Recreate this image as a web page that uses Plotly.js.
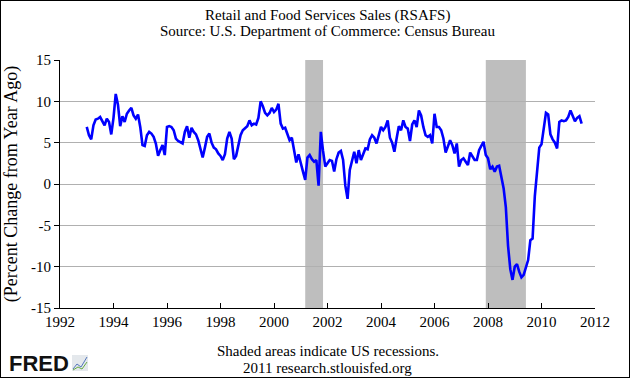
<!DOCTYPE html>
<html>
<head>
<meta charset="utf-8">
<script src="https://cdn.plot.ly/plotly-3.0.1.min.js"></script>
<style>
  html, body { margin: 0; padding: 0; background: #fff; }
  #chart { width: 628px; height: 376px; border: 1px solid #000; }
</style>
</head>
<body>
<div id="chart"></div>
<script>
// Monthly percent change from year ago, starting Jan 1993
const startYear = 1993;
const y1993 = [6.9, 5.9, 5.4, 7.1, 7.8, 7.9, 8.1, 7.5, 7.1, 7.9, 7.5, 6.0];
const y1994 = [8.0, 10.9, 9.6, 7.0, 8.2, 7.5, 8.5, 8.9, 9.2, 8.3, 7.9, 8.4];
const y1995 = [6.9, 4.7, 4.6, 5.9, 6.3, 6.1, 5.7, 4.9, 3.4, 4.1, 4.7, 3.5];
const y1996 = [6.9, 7.0, 6.9, 6.5, 5.5, 5.2, 5.0, 4.9, 6.3, 7.0, 5.6, 6.8];
const y1997 = [6.3, 6.0, 5.3, 4.1, 3.2, 4.4, 5.7, 6.1, 5.0, 4.4, 4.2, 3.7];
const y1998 = [3.4, 2.9, 3.6, 5.5, 6.3, 5.5, 3.0, 3.4, 4.9, 5.9, 6.5, 6.7];
const y1999 = [7.0, 7.7, 7.1, 7.3, 7.2, 8.0, 10.0, 9.4, 8.6, 8.3, 8.6, 9.2];
const y2000 = [8.7, 9.0, 9.7, 7.3, 6.7, 6.8, 6.0, 5.3, 5.6, 4.2, 2.6, 3.6];
const y2001 = [2.7, 1.5, 0.5, 3.2, 3.5, 3.0, 2.7, 2.9, -0.2, 6.3, 4.0, 2.1];
const y2002 = [2.5, 2.9, 2.8, 1.5, 3.0, 3.8, 4.0, 2.9, -0.2, -1.8, 1.7, 2.9];
const y2003 = [3.9, 2.5, 4.1, 2.9, 3.7, 4.3, 4.2, 5.4, 5.9, 5.6, 4.9, 5.8];
const y2004 = [6.9, 6.5, 6.9, 7.7, 5.6, 5.0, 3.9, 5.5, 7.0, 6.5, 7.7, 6.9];
const y2005 = [6.7, 5.2, 7.2, 7.7, 6.9, 8.9, 8.3, 6.9, 5.9, 5.7, 5.9, 4.9];
const y2006 = [8.5, 6.9, 6.9, 6.5, 5.5, 3.8, 4.5, 5.3, 4.7, 3.7, 4.9, 2.1];
const y2007 = [2.9, 3.1, 2.7, 2.3, 3.8, 3.3, 2.9, 2.9, 4.1, 4.6, 5.1, 3.5];
const y2008 = [3.1, 1.8, 2.1, 1.5, 2.1, 2.2, 1.0, -0.5, -2.8, -7.5, -10.3, -11.6];
const y2009 = [-10.0, -9.7, -10.6, -11.3, -11.0, -10.2, -9.2, -6.8, -6.6, -1.5, 1.8, 4.4];
const y2010 = [4.8, 6.9, 8.6, 8.4, 6.0, 5.4, 5.0, 4.3, 7.5, 7.7, 7.6, 7.7];
const y2011 = [8.1, 8.9, 8.2, 7.6, 8.0, 8.2, 7.3];

const recessionStart = [2001.167, 2007.917];
const recessionEnd = [2001.833, 2009.417];

const xTickVals = [1992, 1994, 1996, 1998, 2000, 2002, 2004, 2006, 2008, 2010, 2012];
const yTickVals = [-15, -10, -5, 0, 5, 10, 15];

const values = [].concat(y1993, y1994, y1995, y1996, y1997, y1998, y1999, y2000,
  y2001, y2002, y2003, y2004, y2005, y2006, y2007, y2008, y2009, y2010, y2011);
const xs = values.map((v, i) => startYear + i / 12);

const serif = 'Liberation Serif';

const shapes = recessionStart.map((s, i) => ({
  type: 'rect', xref: 'x', yref: 'paper', x0: s, x1: recessionEnd[i], y0: 0, y1: 1,
  fillcolor: '#BEBEBE', line: { width: 0 }, layer: 'below'
}));

const layout = {
  width: 628, height: 376,
  margin: { l: 59, r: 34, t: 59, b: 69 },
  paper_bgcolor: '#fff', plot_bgcolor: '#fff',
  showlegend: false,
  font: { family: serif, size: 15, color: '#000' },
  xaxis: {
    range: [1992, 2012], tickvals: xTickVals, ticktext: xTickVals.map(String),
    ticks: 'inside', ticklen: 5, tickcolor: '#000', tickwidth: 1,
    showline: true, linecolor: '#000', linewidth: 1, showgrid: false, zeroline: false
  },
  yaxis: {
    range: [-15, 15], tickvals: yTickVals, ticktext: yTickVals.map(String),
    ticks: 'outside', ticklen: 5, tickcolor: '#000', tickwidth: 1,
    showline: true, linecolor: '#000', linewidth: 1,
    showgrid: true, gridcolor: '#B0B0B0', gridwidth: 1, zeroline: false,
    title: { text: '(Percent Change from Year Ago)', standoff: 8 }
  },
  shapes: shapes,
  annotations: [
    { text: 'Retail and Food Services Sales (RSAFS)', xref: 'paper', yref: 'paper',
      x: 0.5, y: 1, yshift: 45, xanchor: 'center', yanchor: 'middle', showarrow: false },
    { text: 'Source: U.S. Department of Commerce: Census Bureau', xref: 'paper', yref: 'paper',
      x: 0.5, y: 1, yshift: 29, xanchor: 'center', yanchor: 'middle', showarrow: false },
    { text: 'Shaded areas indicate US recessions.', xref: 'paper', yref: 'paper',
      x: 0.5, y: 0, yshift: -43, xanchor: 'center', yanchor: 'middle', showarrow: false },
    { text: '2011 research.stlouisfed.org', xref: 'paper', yref: 'paper',
      x: 0.5, y: 0, yshift: -60, xanchor: 'center', yanchor: 'middle', showarrow: false },
    { text: '<b>FRED</b>', xref: 'paper', yref: 'paper',
      x: 0, xshift: -53, y: 0, yshift: -55, xanchor: 'left', yanchor: 'middle', showarrow: false,
      font: { family: 'Liberation Sans', size: 22, color: '#111' } }
  ]
};

const trace = {
  x: xs, y: values, type: 'scatter', mode: 'lines',
  line: { color: '#0000FF', width: 2.6 }, hoverinfo: 'skip'
};

// small FRED chart icon (decorative)
const iconX0 = 12, iconY = -55;
Plotly.newPlot('chart', [trace], layout, { staticPlot: true, displayModeBar: false }).then(function (gd) {
  const full = gd._fullLayout;
  const pw = full._size.w, ph = full._size.h;
  const px = (dx) => dx / pw, py = (dy) => dy / ph;
  const extra = [
    { type: 'rect', xref: 'paper', yref: 'paper', x0: px(iconX0), x1: px(iconX0 + 16), y0: py(iconY - 8), y1: py(iconY + 8),
      fillcolor: '#E4E8EC', line: { width: 0 } },
    { type: 'path', xref: 'paper', yref: 'paper',
      path: 'M ' + px(iconX0 + 1) + ' ' + py(iconY - 6) + ' L ' + px(iconX0 + 5) + ' ' + py(iconY - 1) + ' L ' + px(iconX0 + 9) + ' ' + py(iconY - 4) + ' L ' + px(iconX0 + 15) + ' ' + py(iconY + 6),
      line: { color: '#5577BB', width: 1 } },
    { type: 'path', xref: 'paper', yref: 'paper',
      path: 'M ' + px(iconX0 + 1) + ' ' + py(iconY - 7) + ' L ' + px(iconX0 + 6) + ' ' + py(iconY - 4) + ' L ' + px(iconX0 + 10) + ' ' + py(iconY - 6) + ' L ' + px(iconX0 + 15) + ' ' + py(iconY + 1),
      line: { color: '#66AA44', width: 1 } }
  ];
  Plotly.relayout(gd, { shapes: layout.shapes.concat(extra) });
});
</script>
</body>
</html>
